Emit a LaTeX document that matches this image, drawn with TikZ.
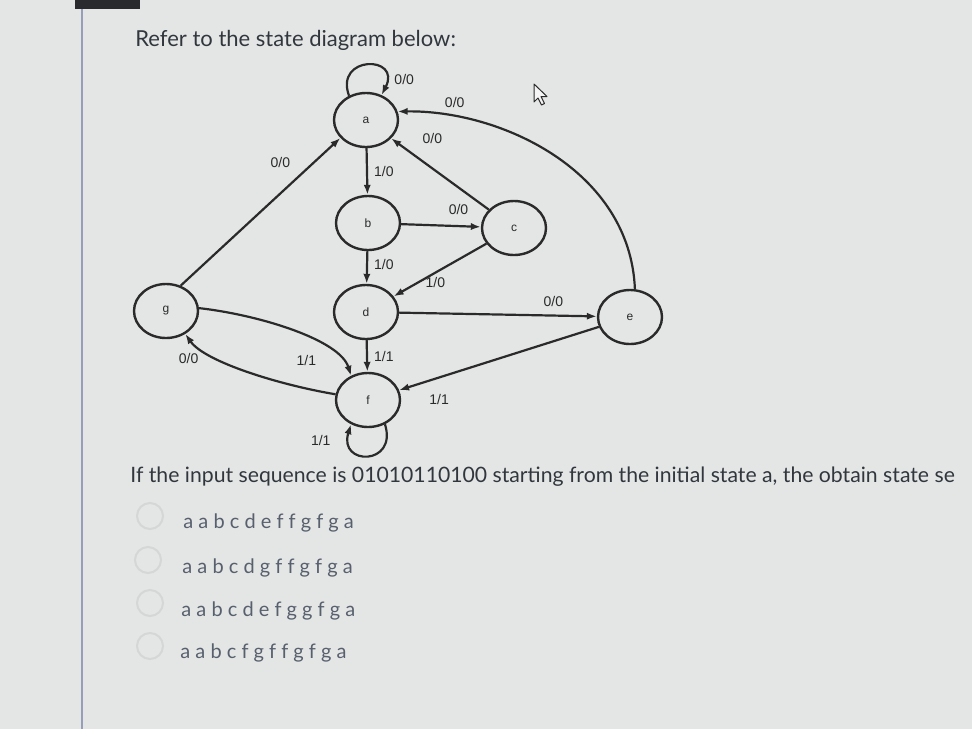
\documentclass[tikz,border=0pt]{standalone}
\usepackage{fontspec}
\setmainfont{Lato}
\newfontfamily\diagfont{Liberation Sans}
\usepackage{tikz}
\usetikzlibrary{arrows.meta,positioning,shapes.geometric}
\definecolor{screenbg}{RGB}{228,230,229}
\definecolor{inkgray}{RGB}{42,42,42}
\definecolor{textgray}{RGB}{50,55,62}
\definecolor{optgray}{RGB}{88,96,110}
\definecolor{darkbar}{RGB}{40,42,46}
\definecolor{sideline}{RGB}{150,158,185}
\definecolor{radiogray}{RGB}{213,215,215}
\tikzset{
  state/.style={ellipse, draw=inkgray, line width=1.2pt,
                minimum width=32pt, minimum height=27pt, inner sep=0pt,
                font=\diagfont\fontsize{6}{7}\selectfont, text=inkgray},
  arr/.style={-{Latex[length=5pt,width=3.6pt]}, line width=1.1pt, draw=inkgray},
  lbl/.style={font=\diagfont\fontsize{7}{8}\selectfont, text=inkgray, inner sep=1pt},
  qtext/.style={anchor=base west, inner sep=0pt, text=textgray,
                font=\fontsize{11}{13}\selectfont},
  option/.style={anchor=base west, inner sep=0pt, text=optgray,
                 font=\fontsize{10}{12}\selectfont},
  radio/.style={circle, draw=radiogray, line width=1pt, minimum size=13pt, inner sep=0pt},
}

\begin{document}
\begin{tikzpicture}[x=0.5pt,y=-0.5pt]
  \useasboundingbox[fill=screenbg] (0,0) rectangle (972,729);
  % screen edge
  \fill[darkbar] (75,0) rectangle (140,9);
  \draw[sideline, line width=0.6pt] (82,9) -- (82,729);

  \node[qtext] (head) at (135,46) {Refer to the state diagram below:};

  % states
  \node[state] (a) at (366,120) {a};
  \node[state] (b) at (368,223) {b};
  \node[state] (c) at (514,228) {c};
  \node[state] (d) at (366,312) {d};
  \node[state] (e) at (630,317) {e};
  \node[state] (f) at (368,400) {f};
  \node[state] (g) at (166,311) {g};

  % transitions
  \draw[arr] (a.125) .. controls (334,55) and (402,55) .. (a.58)
        node[lbl, pos=0.85, right=3pt] {0/0};
  \draw[arr] (a) -- (b) node[lbl, midway, right=2pt] {1/0};
  \draw[arr] (b) -- (d) node[lbl, pos=0.4, right=2pt] {1/0};
  \draw[arr] (d) -- (f) node[lbl, midway, right=2pt] {1/1};
  \draw[arr] (b) -- (c) node[lbl, pos=0.72, above=4pt] {0/0};
  \draw[arr] (c) -- (a) node[lbl, pos=0.68, above=7pt, xshift=5pt] {0/0};
  \draw[arr] (c) -- (d) node[lbl, pos=0.55, below=1pt] {1/0};
  \draw[arr] (d) -- (e) node[lbl, pos=0.78, above=3pt] {0/0};
  \draw[arr] (e) -- (f) node[lbl, pos=0.8, below=7pt] {1/1};
  \draw[arr] (e.80) .. controls (630,170) and (500,110) .. (a.15)
        node[lbl, pos=0.82, above=3pt] {0/0};
  \draw[arr] (g.60) -- (a.215) node[lbl, pos=0.74, above left=4pt] {0/0};
  \draw[arr] (g.5) .. controls (260,315) and (340,340) .. (f.125)
        node[lbl, pos=0.7, below left=4pt] {1/1};
  \draw[arr] (f.170) .. controls (280,385) and (205,362) .. (g.-50)
        node[lbl, pos=0.95, below=6pt] {0/0};
  \draw[arr] (f.-55) .. controls (398,466) and (338,466) .. (f.-125)
        node[lbl, pos=0.85, left=8pt] {1/1};

  % mouse pointer
  \draw[fill=white!92!gray, draw=inkgray, line width=0.5pt, line join=round]
    (534,84) -- ++(0,18) -- ++(4,-4) -- ++(3.5,7) -- ++(3,-1.5)
    -- ++(-3.5,-7) -- ++(6,0) -- cycle;

  \node[qtext, font=\fontsize{10.6}{13}\selectfont] (question) at (130,482)
    {If the input sequence is 01010110100 starting from the initial state a, the obtain state se};

  % answer choices
  \node[radio] (r1) at (150,516) {};
  \node[radio] (r2) at (148,560) {};
  \node[radio] (r3) at (150,603) {};
  \node[radio] (r4) at (150,646) {};
  \node[option] (o1) at (183,528) {a a b c d e f f g f g a};
  \node[option] (o2) at (182,573) {a a b c d g f f g f g a};
  \node[option] (o3) at (181,616) {a a b c d e f g g f g a};
  \node[option] (o4) at (180,658) {a a b c f g f f g f g a};
\end{tikzpicture}
\end{document}
